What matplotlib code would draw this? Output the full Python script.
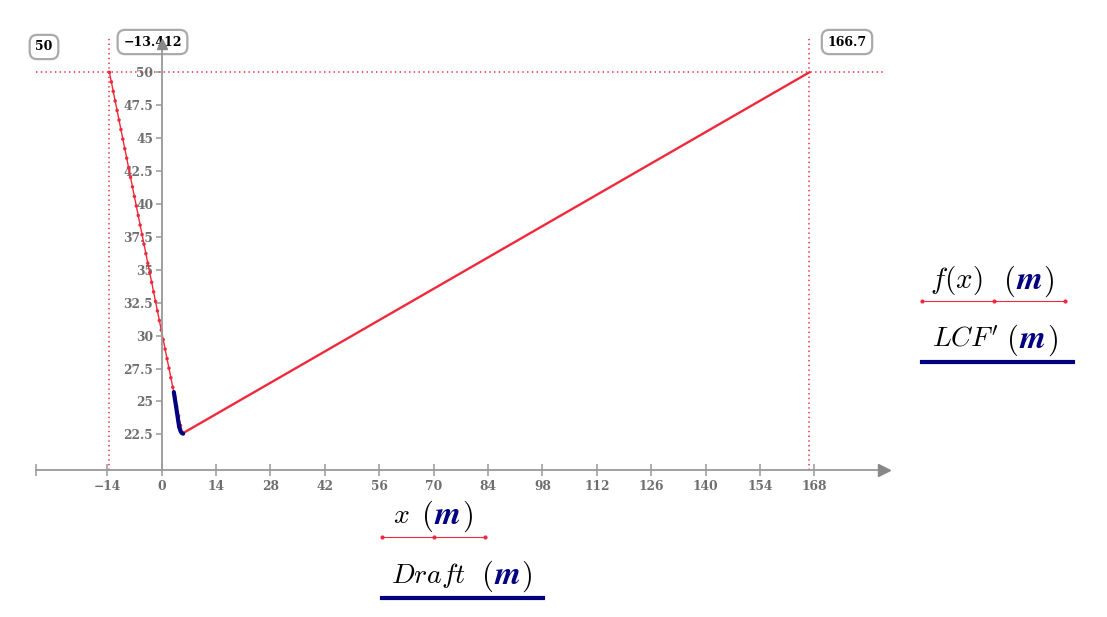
import numpy as np
import matplotlib
matplotlib.use("Agg")
import matplotlib.pyplot as plt
from matplotlib.lines import Line2D

plt.rcParams['mathtext.fontset'] = 'cm'
plt.rcParams['lines.scale_dashes'] = False

# datos
fx_x = [-13.412, 5.3, 166.7]
fx_y = [50, 22.55, 50]
draft = [3.17, 3.86, 4.54, 4.9, 5.2, 5.57]
lcf = [25.71, 24.39, 23.05, 22.75, 22.6, 22.55]
marca_x = [-13.412, 166.7]
marca_y = 50
xticks = [-14, 0, 14, 28, 42, 56, 70, 84, 98, 112, 126, 140, 154, 168]
yticks = [22.5, 25, 27.5, 30, 32.5, 35, 37.5, 40, 42.5, 45, 47.5, 50]
xlim = (-32.3, 185.9)
ylim = (19.79, 52.15)

ROJO = '#EE2A3C'
AZUL = '#000080'
GRIS = '#999999'
FUENTE = 'DejaVu Serif'
W, H = 1107, 617

def px(x, y):
    return (x / W, 1 - y / H)

fig = plt.figure(figsize=(W / 100, H / 100), dpi=100)
ax = fig.add_axes([36 / W, 1 - 470 / H, (884 - 36) / W, (470 - 44) / H])
ax.set_xlim(*xlim)
ax.set_ylim(*ylim)
ax.patch.set_visible(False)

# ejes estilo mathcad
for s in ['top', 'right']:
    ax.spines[s].set_visible(False)
ax.spines['left'].set_position(('data', 0))
for s in ['left', 'bottom']:
    ax.spines[s].set_color(GRIS)
    ax.spines[s].set_linewidth(1.3)
    ax.spines[s].set_zorder(5)
ax.plot([1], [0], marker='>', color='#888888', ms=8, transform=ax.transAxes, clip_on=False, zorder=6)
ax.plot([0], [1], marker='^', color='#888888', ms=7, transform=ax.get_xaxis_transform(), clip_on=False, zorder=6)

ax.set_xticks([xlim[0]] + xticks)
ax.set_xticklabels([''] + ['\u2212' + str(-t) if t < 0 else str(t) for t in xticks])
ax.set_yticks(yticks)
ax.set_yticklabels([('%g' % t) for t in yticks])
ax.tick_params(axis='x', direction='inout', length=8, width=1.1, color=GRIS, pad=3)
ax.tick_params(axis='y', direction='out', length=4, width=1.1, color=GRIS, pad=2)
for lab in ax.get_xticklabels() + ax.get_yticklabels():
    lab.set_fontfamily(FUENTE)
    lab.set_fontweight('bold')
    lab.set_fontsize(8.8)
    lab.set_color('#6e6e6e')

# lineas de marca punteadas
ax.axhline(marca_y, color=ROJO, lw=1.1, ls=(0, (1.0, 2.4)), zorder=1, clip_on=False)
for mx in marca_x:
    ax.plot([mx, mx], [ylim[0], 52.6], color=ROJO, lw=1.1, ls=(0, (1.0, 2.4)), zorder=1, clip_on=False)

# f(x)
ax.plot(fx_x[:2], fx_y[:2], color=ROJO, lw=1.0, zorder=3)
ax.plot(fx_x[:2], fx_y[:2], color=ROJO, lw=2.6, ls=(0, (0.01, 7.0)), solid_capstyle='round',
        dash_capstyle='round', zorder=3)
ax.plot(fx_x[1:], fx_y[1:], color=ROJO, lw=1.7, zorder=3)

# LCF' vs Draft
ax.plot(draft, lcf, color=AZUL, lw=3.0, solid_capstyle='round', zorder=4)

# etiquetas de marcas
caja = dict(boxstyle='round,pad=0.45,rounding_size=0.6', fc='white', ec='#aaaaaa', lw=1.6)
for txt, cx, cy in [('50', 44, 47), ('\u221213.412', 152.5, 42), ('166.7', 847, 42)]:
    ax.text(*px(cx, cy), txt, transform=fig.transFigure, ha='center', va='center',
            fontfamily=FUENTE, fontweight='bold', fontsize=9, color='black',
            bbox=caja, zorder=2, clip_on=False)

# leyendas con unidades
def pieza(x, y, s, color='black', **kw):
    fig.text(*px(x, y), s, ha='left', va='baseline', color=color, **kw)

def unidad(xp, xm, xc, y):
    pieza(xp, y, r'$($', fontsize=22)
    pieza(xm, y, 'm', color=AZUL, fontfamily='STIXGeneral', fontstyle='italic',
          fontweight='bold', fontsize=24)
    pieza(xc, y, r'$)$', fontsize=22)

pieza(393, 523, r'$x$', fontsize=20)
unidad(421, 434, 462, 524)
pieza(391, 583, r'$Draft$', fontsize=20)
unidad(481, 494, 521, 584)
pieza(930, 288, r'$f(x)$', fontsize=21)
unidad(1003, 1016, 1043, 289)
pieza(932, 347, r"$LCF'$", fontsize=20)
unidad(1006, 1019, 1047, 348)

def linea(x1, x2, y, color, lw, marcas=False):
    xs = [x1, (x1 + x2) / 2, x2]
    pts = [px(v, y) for v in xs]
    l = Line2D([p[0] for p in pts], [p[1] for p in pts], color=color, lw=lw,
               transform=fig.transFigure, marker='o' if marcas else None, ms=2.0)
    fig.add_artist(l)

linea(382, 485, 537, ROJO, 0.8, True)
linea(382, 543, 598, AZUL, 3.0)
linea(922, 1065, 301, ROJO, 0.8, True)
linea(922, 1073, 362, AZUL, 3.0)

fig.savefig('out.png', dpi=100)
